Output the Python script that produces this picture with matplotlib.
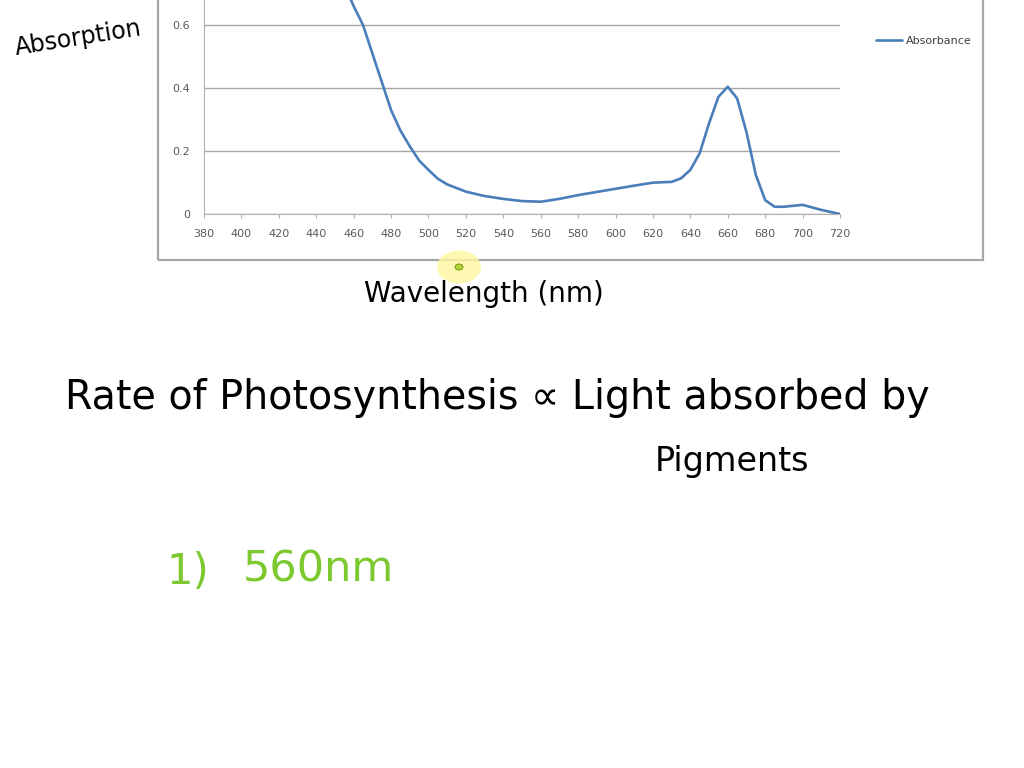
import matplotlib.pyplot as plt
from matplotlib.patches import Rectangle, Circle

# absorbance spectrum (values before 460 nm are off the top of the picture)
wavelength = [380, 400, 420, 430, 440, 450, 460, 465, 470, 475, 480, 485, 490, 495, 500, 505, 510,
              520, 530, 540, 550, 560, 570, 580, 590, 600, 610, 620, 630, 635, 640, 645, 650, 655, 660,
              665, 670, 675, 680, 685, 690, 700, 710, 720]
absorbance = [0.80, 0.85, 0.95, 0.98, 0.93, 0.80, 0.66, 0.60, 0.51, 0.42, 0.33, 0.265, 0.215, 0.170, 0.140,
              0.112, 0.094, 0.071, 0.057, 0.048, 0.041, 0.039, 0.048, 0.060, 0.070, 0.080, 0.090, 0.0995,
              0.102, 0.113, 0.14, 0.193, 0.288, 0.372, 0.404, 0.367, 0.26, 0.124, 0.044, 0.023, 0.023,
              0.029, 0.013, 0.0]
x_ticks = list(range(380, 721, 20))
y_ticks = [0, 0.2, 0.4, 0.6]
y_tick_labels = ['0', '0.2', '0.4', '0.6']

W, H = 1024, 768
fig = plt.figure(figsize=(W / 100, H / 100), dpi=100)
fig.patch.set_facecolor('white')

def fx(px):
    return px / W

def fy(py):
    return 1 - py / H

# chart frame (the top of it is cut off)
fig.patches.append(Rectangle((fx(158), fy(260)), fx(983) - fx(158), 1.2,
                             transform=fig.transFigure, fill=False,
                             edgecolor='#a6a6a6', linewidth=1.6))

# plot area: 0 at y=214, 0.2 per 63 px, the top of the picture cuts it at about 0.68
ax = fig.add_axes([fx(204), fy(214), fx(840) - fx(204), 214 / H])
ax.plot(wavelength, absorbance, color='#4a7ebb', linewidth=1.9, label='Absorbance',
        solid_joinstyle='round', solid_capstyle='round')
ax.set_xlim(380, 720)
ax.set_ylim(0, 214 / 315)
ax.set_xticks(x_ticks)
ax.set_yticks(y_ticks)
ax.set_yticklabels(y_tick_labels)
ax.tick_params(axis='both', colors='#595959', labelsize=8)
ax.tick_params(axis='y', length=0, pad=10)
ax.tick_params(axis='x', length=3, color='#b0b0b0', pad=8)
ax.grid(axis='y', color='#a6a6a6', linewidth=1.0)
ax.set_axisbelow(True)
for side in ['top', 'right']:
    ax.spines[side].set_visible(False)
for side in ['left', 'bottom']:
    ax.spines[side].set_color('#b0b0b0')

ax.legend(loc='center left', bbox_to_anchor=(fx(870), fy(41)), bbox_transform=fig.transFigure,
          frameon=False, fontsize=8, handlelength=2.4, handletextpad=0.3, borderpad=0,
          labelcolor='#404040')

# cursor highlight
fig.patches.append(Circle((fx(459), fy(267)), 22 / W, transform=fig.transFigure,
                          facecolor='#fff7a0', edgecolor='none', alpha=0.8))
fig.patches.append(Circle((fx(459), fy(267)), 4 / W, transform=fig.transFigure,
                          facecolor='#b5d334', edgecolor='#6b8a10', linewidth=0.6))

# handwritten notes
fig.text(fx(78), fy(38), 'Absorption', fontsize=17, rotation=9,
         ha='center', va='center', color='black')
fig.text(fx(484), fy(294), 'Wavelength (nm)', fontsize=20,
         ha='center', va='center', color='black')
fig.text(fx(497), fy(398), 'Rate of Photosynthesis \u221d Light absorbed by',
         fontsize=28.5, ha='center', va='center', color='black')
fig.text(fx(732), fy(462), 'Pigments', fontsize=24,
         ha='center', va='center', color='black')
fig.text(fx(188), fy(572), '1)', fontsize=30,
         ha='center', va='center', color='#7cc92f')
fig.text(fx(318), fy(570), '560nm', fontsize=31,
         ha='center', va='center', color='#7cc92f')

fig.savefig('out.png', dpi=100)
